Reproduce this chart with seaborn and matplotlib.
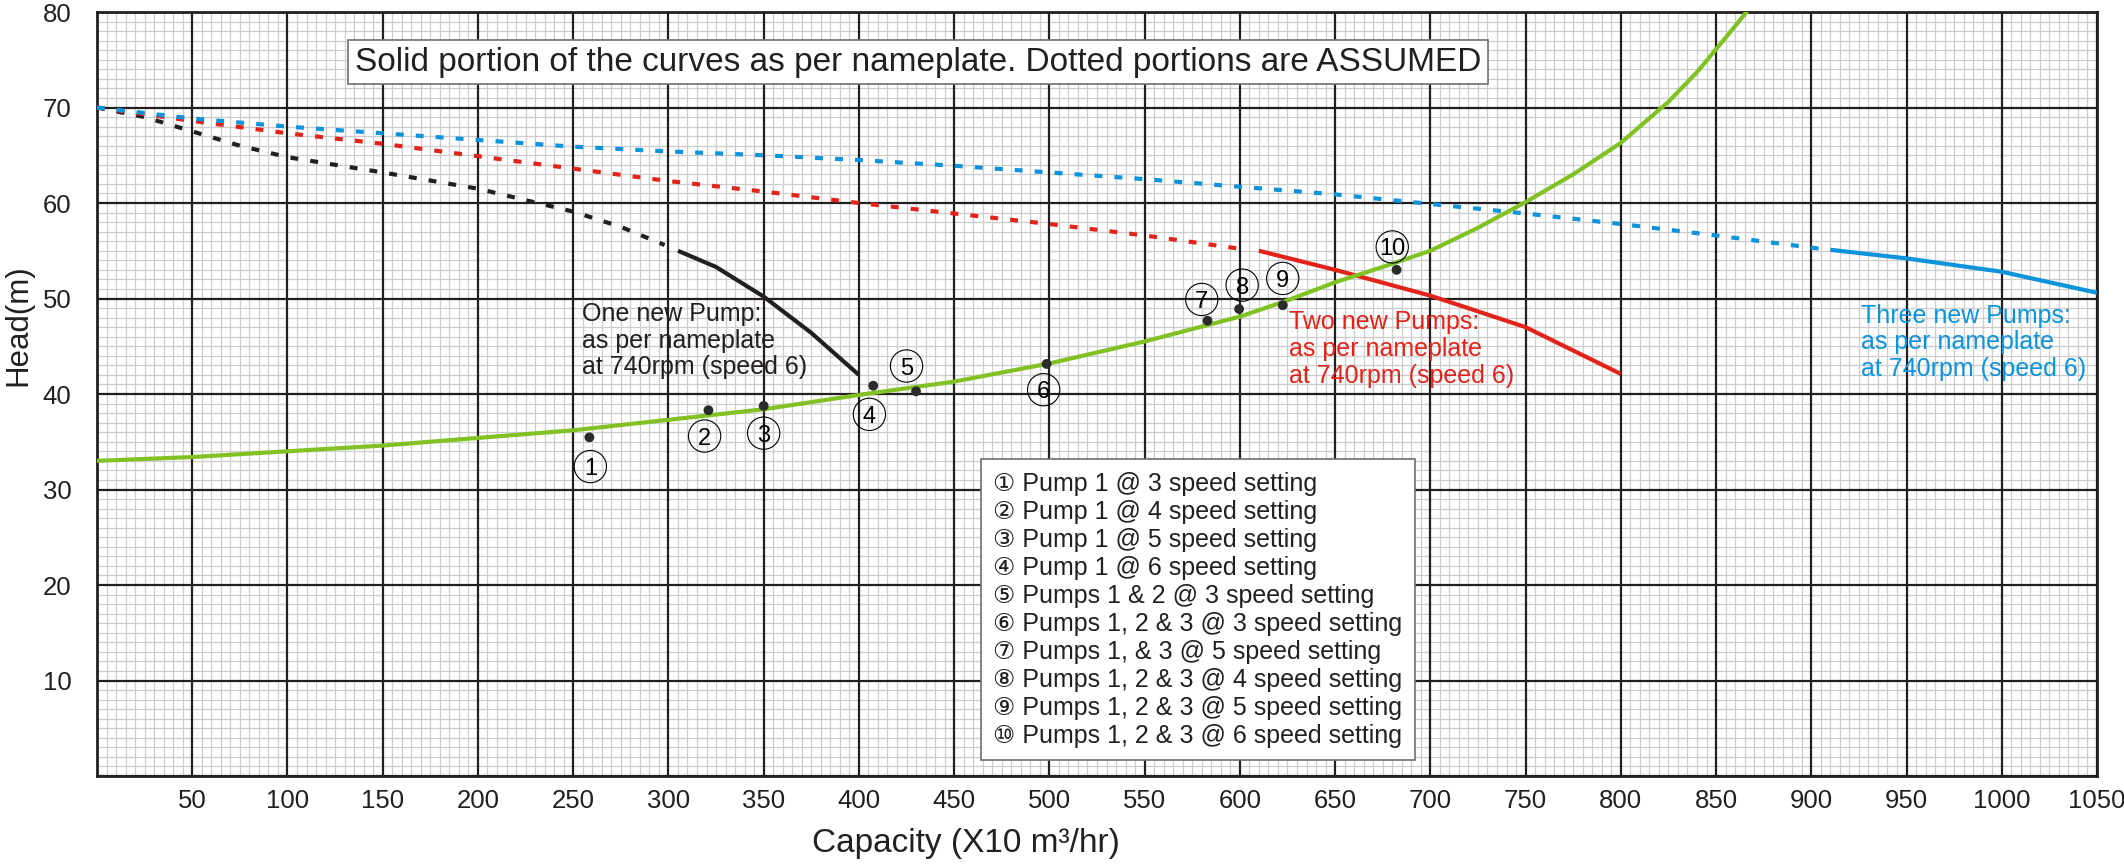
import matplotlib
matplotlib.use("Agg")
import matplotlib.pyplot as plt
import seaborn as sns
import numpy as np

# Pump curves: capacity (X10 m3/hr) vs head (m)
# "dash" = assumed part, "solid" = nameplate part
one_dash_q = [0, 25, 50, 75, 100, 150, 200, 250, 275, 298]
one_dash_h = [70.0, 69.0, 67.5, 66.0, 64.8, 63.2, 61.5, 59.1, 57.5, 55.6]
one_solid_q = [305, 325, 350, 375, 400]
one_solid_h = [55.0, 53.3, 50.2, 46.4, 42.0]

two_dash_q = [0, 50, 100, 150, 200, 250, 300, 350, 400, 450, 500, 550, 604]
two_dash_h = [70.0, 68.6, 67.3, 66.2, 64.9, 63.6, 62.3, 61.2, 60.0, 58.9, 57.8, 56.6, 55.1]
two_solid_q = [610, 650, 700, 750, 800]
two_solid_h = [55.0, 53.0, 50.3, 47.0, 42.1]

three_dash_q = [0, 50, 100, 150, 200, 250, 300, 350, 400, 450, 500, 550, 600,
                650, 700, 750, 800, 850, 905]
three_dash_h = [70.0, 68.85, 68.0, 67.3, 66.6, 65.9, 65.4, 65.0, 64.5, 63.9, 63.2,
                62.5, 61.7, 60.9, 59.9, 58.9, 57.8, 56.6, 55.2]
three_solid_q = [910, 950, 1000, 1050]
three_solid_h = [55.1, 54.2, 52.8, 50.6]

# system curve (green)
system_q = [0, 50, 100, 150, 200, 250, 300, 350, 400, 450, 500, 550, 600, 625,
            650, 675, 700, 725, 750, 775, 800, 825, 840, 855, 866]
system_h = [33.0, 33.4, 34.0, 34.6, 35.4, 36.2, 37.3, 38.4, 39.9, 41.3, 43.2, 45.5,
            48.1, 49.8, 51.7, 53.3, 55.0, 57.4, 60.1, 63.0, 66.3, 70.6, 73.7, 77.3, 80.0]

# measured operating points
point_q = [258.5, 321, 350, 407.5, 430, 498.5, 583, 599.6, 622.5, 682.3]
point_h = [35.46, 38.3, 38.75, 40.87, 40.28, 43.15, 47.67, 48.9, 49.3, 53.0]
point_ids = ["1", "2", "3", "4", "5", "6", "7", "8", "9", "10"]

legend_items = [
    "① Pump 1 @ 3 speed setting",
    "② Pump 1 @ 4 speed setting",
    "③ Pump 1 @ 5 speed setting",
    "④ Pump 1 @ 6 speed setting",
    "⑤ Pumps 1 & 2 @ 3 speed setting",
    "⑥ Pumps 1, 2 & 3 @ 3 speed setting",
    "⑦ Pumps 1, & 3 @ 5 speed setting",
    "⑧ Pumps 1, 2 & 3 @ 4 speed setting",
    "⑨ Pumps 1, 2 & 3 @ 5 speed setting",
    "⑩ Pumps 1, 2 & 3 @ 6 speed setting",
]

x_ticks = list(range(0, 1051, 50))
y_ticks = list(range(0, 81, 10))

sns.set_style("white")
plt.rcParams["font.family"] = ["Liberation Sans", "DejaVu Sans", "Noto Sans CJK JP"]

BLACK = "#231f20"
RED = "#e2231a"
BLUE = "#0b93dc"
GREEN = "#80c223"
DOTTED = (0, (1.9, 2.9))

fig = plt.figure(figsize=(21.24, 8.64), dpi=100)
ax = fig.add_axes([0.04567, 0.10185, 0.94162, 0.88426])

# --- curves --------------------------------------------------------------
curves = [
    (one_dash_q, one_dash_h, BLACK, DOTTED),
    (one_solid_q, one_solid_h, BLACK, "-"),
    (two_dash_q, two_dash_h, RED, DOTTED),
    (two_solid_q, two_solid_h, RED, "-"),
    (three_dash_q, three_dash_h, BLUE, DOTTED),
    (three_solid_q, three_solid_h, BLUE, "-"),
]
for q, h, c, ls in curves:
    sns.lineplot(x=q, y=h, ax=ax, color=c, linestyle=ls, linewidth=3,
                 solid_capstyle="butt", dash_capstyle="butt", zorder=4)

sns.lineplot(x=system_q, y=system_h, ax=ax, color=GREEN, linewidth=3,
             solid_joinstyle="round", zorder=4)

# --- operating points + circled numbers ----------------------------------
sns.scatterplot(x=point_q, y=point_h, ax=ax, color="#2b2b2b", s=50,
                edgecolor="none", zorder=6)

label_dq = [0.5, -2, 0, -2, -5, -1.5, -3, 1.6, 0, -2.3]
label_dh = [-3.06, -2.7, -2.85, -3.0, 2.65, -2.7, 2.23, 2.5, 2.8, 2.4]
lab_q = [q + d for q, d in zip(point_q, label_dq)]
lab_h = [h + d for h, d in zip(point_h, label_dh)]
sns.scatterplot(x=lab_q, y=lab_h, ax=ax, marker="o", s=540, facecolor="none",
                edgecolor="black", linewidth=0.8, zorder=6)
for q, h, t in zip(lab_q, lab_h, point_ids):
    ax.text(q, h, t, fontsize=17, ha="center", va="center_baseline",
            color="black", zorder=7)

# --- annotations ---------------------------------------------------------
ax.text(254.5, 45.6, "One new Pump:\nas per nameplate\nat 740rpm (speed 6)",
        fontsize=18, color=BLACK, ha="left", va="center", linespacing=1.15, zorder=5)
ax.text(626, 44.7, "Two new Pumps:\nas per nameplate\nat 740rpm (speed 6)",
        fontsize=18, color=RED, ha="left", va="center", linespacing=1.15, zorder=5)
ax.text(926, 45.4, "Three new Pumps:\nas per nameplate\nat 740rpm (speed 6)",
        fontsize=18, color=BLUE, ha="left", va="center", linespacing=1.15, zorder=5)

ax.text(431, 74.75,
        "Solid portion of the curves as per nameplate. Dotted portions are ASSUMED",
        fontsize=24, ha="center", va="center", color=BLACK, zorder=8,
        bbox=dict(boxstyle="square,pad=0.2", facecolor="white", edgecolor="#6d6e71",
                  linewidth=1.2))

ax.text(470.5, 17.4, "\n".join(legend_items), fontsize=18, ha="left",
        va="center", color=BLACK, linespacing=1.21, zorder=8,
        bbox=dict(boxstyle="square,pad=0.5", facecolor="white", edgecolor="#6d6e71",
                  linewidth=1.2))

# --- axes, grid ----------------------------------------------------------
ax.set_xlim(0, 1050)
ax.set_ylim(0, 80)
ax.set_xticks(x_ticks)
ax.set_yticks(y_ticks)
ax.set_xticklabels([""] + [str(v) for v in x_ticks[1:]])
ax.set_yticklabels([""] + [str(v) for v in y_ticks[1:]])
ax.set_xticks(np.arange(0, 1051, 5), minor=True)
ax.set_yticks(np.arange(0, 81, 1), minor=True)
ax.tick_params(which="both", length=0)
ax.tick_params(axis="x", labelsize=18.5, pad=9, colors=BLACK)
ax.tick_params(axis="y", labelsize=18.5, pad=18.5, colors=BLACK)

# light graph-paper grid, black major lines on top of it
ax.grid(which="minor", color="#cdcdcd", linewidth=0.9)
ax.grid(which="major", visible=False)
ax.set_axisbelow(True)
for v in x_ticks:
    ax.axvline(v, color=BLACK, linewidth=1.6, zorder=1)
for v in y_ticks:
    ax.axhline(v, color=BLACK, linewidth=1.6, zorder=1)
for sp in ax.spines.values():
    sp.set_color(BLACK)
    sp.set_linewidth(2)

ax.set_xlabel("Capacity (X10 m³/hr)", fontsize=24, color=BLACK)
ax.set_ylabel("Head(m)", fontsize=22.5, color=BLACK)
ax.xaxis.set_label_coords(0.4345, -0.068)
ax.yaxis.set_label_coords(-0.032, 0.59)

fig.savefig("out.png", dpi=100)
